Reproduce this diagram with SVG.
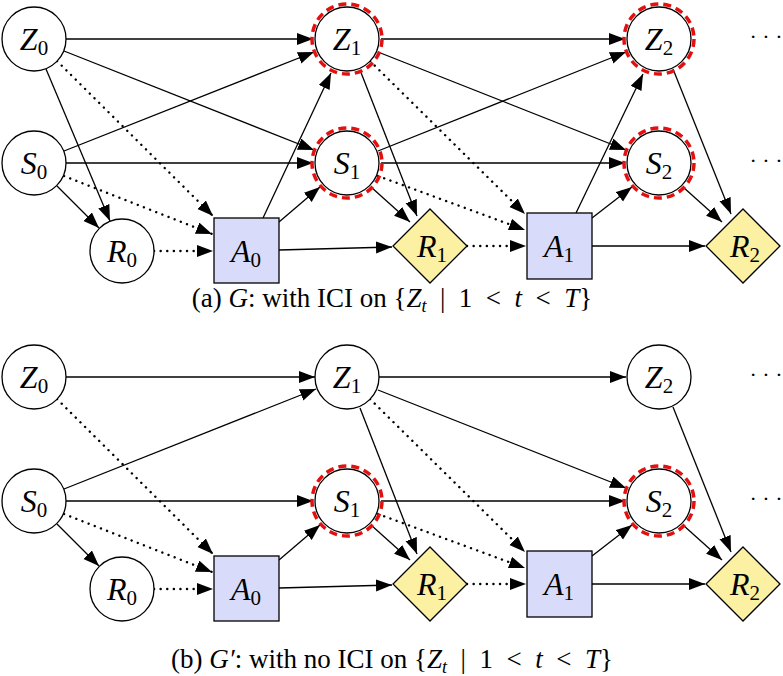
<svg xmlns="http://www.w3.org/2000/svg" width="783" height="676" viewBox="0 0 783 676">
<defs>
<marker id="ah" markerUnits="userSpaceOnUse" markerWidth="18" markerHeight="14" refX="16" refY="6" orient="auto"><path d="M0,0 L16,6 L0,12 Z" fill="#000"/></marker>
</defs>
<style>
.c{fill:#fff;stroke:#000;stroke-width:1.3}
.a{fill:#d9dbfa;stroke:#000;stroke-width:1.3}
.r{fill:#fcf1a2;stroke:#000;stroke-width:1.3}
.red{fill:none;stroke:#e41010;stroke-width:3.5;stroke-dasharray:8 5}
.e line{stroke:#000;stroke-width:1.3;marker-end:url(#ah)}
.e line.d{stroke-dasharray:0.1 6.5;stroke-linecap:round;stroke-width:2.4}
text{font-family:'Liberation Serif','DejaVu Serif',serif;fill:#000}
.l{font-size:32px;font-style:italic;text-anchor:middle}
.s{font-size:21px;font-style:normal}
.cap{font-size:27px;text-anchor:middle}
.dots{font-size:22px;text-anchor:middle}
</style>
<g id="edges-a" class="e">
<line x1="66" y1="39" x2="313" y2="39"/>
<line x1="64" y1="51" x2="314" y2="150"/>
<line x1="46" y1="69" x2="110" y2="221"/>
<line class="d" x1="57" y1="61" x2="213" y2="216"/>
<line x1="64" y1="151" x2="314" y2="52"/>
<line x1="66" y1="163" x2="313" y2="163"/>
<line x1="57" y1="186" x2="99" y2="228"/>
<line class="d" x1="64" y1="176" x2="212" y2="234"/>
<line class="d" x1="154" y1="251" x2="213" y2="251"/>
<line x1="263" y1="218" x2="331" y2="73"/>
<line x1="279" y1="222" x2="320" y2="187"/>
<line x1="279" y1="250" x2="392" y2="247"/>
<line x1="381" y1="39" x2="625" y2="39"/>
<line x1="378" y1="52" x2="626" y2="150"/>
<line x1="360" y1="70" x2="417" y2="216"/>
<line class="d" x1="370" y1="61" x2="525" y2="214"/>
<line x1="378" y1="151" x2="626" y2="52"/>
<line x1="381" y1="163" x2="625" y2="163"/>
<line x1="371" y1="187" x2="410" y2="222"/>
<line class="d" x1="378" y1="176" x2="525" y2="230"/>
<line class="d" x1="467" y1="246" x2="526" y2="246"/>
<line x1="576" y1="213" x2="643" y2="74"/>
<line x1="592" y1="218" x2="632" y2="187"/>
<line x1="592" y1="246" x2="705" y2="246"/>
<line x1="673" y1="69" x2="731" y2="214"/>
<line x1="683" y1="187" x2="722" y2="222"/>
</g>
<g id="edges-b" class="e">
<line x1="66" y1="377" x2="315" y2="377"/>
<line class="d" x1="57" y1="399" x2="213" y2="554"/>
<line x1="64" y1="489" x2="316" y2="389"/>
<line x1="66" y1="501" x2="313" y2="501"/>
<line x1="57" y1="524" x2="99" y2="566"/>
<line class="d" x1="64" y1="514" x2="212" y2="572"/>
<line class="d" x1="154" y1="589" x2="213" y2="589"/>
<line x1="279" y1="560" x2="320" y2="525"/>
<line x1="279" y1="588" x2="392" y2="585"/>
<line x1="379" y1="377" x2="626" y2="377"/>
<line x1="378" y1="390" x2="626" y2="488"/>
<line x1="360" y1="408" x2="417" y2="554"/>
<line class="d" x1="370" y1="399" x2="525" y2="552"/>
<line x1="381" y1="501" x2="625" y2="501"/>
<line x1="371" y1="525" x2="410" y2="560"/>
<line class="d" x1="378" y1="514" x2="525" y2="568"/>
<line class="d" x1="467" y1="584" x2="526" y2="584"/>
<line x1="592" y1="556" x2="632" y2="525"/>
<line x1="592" y1="584" x2="705" y2="584"/>
<line x1="673" y1="407" x2="731" y2="552"/>
<line x1="683" y1="525" x2="722" y2="560"/>
</g>
<g id="Z0a"><circle class="c" cx="34" cy="39" r="32"/><text class="l" x="34" y="50">Z<tspan class="s" dy="5">0</tspan></text></g>
<g id="S0a"><circle class="c" cx="34" cy="163" r="32"/><text class="l" x="34" y="174">S<tspan class="s" dy="5">0</tspan></text></g>
<g id="R0a"><circle class="c" cx="122" cy="251" r="32"/><text class="l" x="122" y="262">R<tspan class="s" dy="5">0</tspan></text></g>
<g id="A0a"><rect class="a" x="214" y="218" width="65" height="65"/><text class="l" x="246" y="262">A<tspan class="s" dy="5">0</tspan></text></g>
<g id="Z1a"><circle class="c" cx="347" cy="39" r="32"/><circle class="red" cx="347" cy="39" r="35"/><text class="l" x="347" y="50">Z<tspan class="s" dy="5">1</tspan></text></g>
<g id="S1a"><circle class="c" cx="347" cy="163" r="32"/><circle class="red" cx="347" cy="163" r="35"/><text class="l" x="347" y="174">S<tspan class="s" dy="5">1</tspan></text></g>
<g id="R1a"><polygon class="r" points="430,209 467,246 430,283 393,246"/><text class="l" x="432" y="257">R<tspan class="s" dy="5">1</tspan></text></g>
<g id="A1a"><rect class="a" x="527" y="213" width="65" height="66"/><text class="l" x="559" y="257">A<tspan class="s" dy="5">1</tspan></text></g>
<g id="Z2a"><circle class="c" cx="659" cy="39" r="32"/><circle class="red" cx="659" cy="39" r="35"/><text class="l" x="659" y="50">Z<tspan class="s" dy="5">2</tspan></text></g>
<g id="S2a"><circle class="c" cx="659" cy="163" r="32"/><circle class="red" cx="659" cy="163" r="35"/><text class="l" x="659" y="174">S<tspan class="s" dy="5">2</tspan></text></g>
<g id="R2a"><polygon class="r" points="743,209 780,246 743,283 706,246"/><text class="l" x="745" y="257">R<tspan class="s" dy="5">2</tspan></text></g>
<text class="dots" x="766" y="44">· · ·</text>
<text class="dots" x="766" y="168">· · ·</text>
<text class="cap" x="392" y="307" xml:space="preserve">(a) <tspan font-style="italic">G</tspan>: with ICI on {<tspan font-style="italic">Z<tspan font-size="18" dy="5">t</tspan></tspan><tspan dy="-5">  |  1  &lt;  </tspan><tspan font-style="italic">t</tspan>  &lt;  <tspan font-style="italic">T</tspan>}</text>

<g id="Z0b"><circle class="c" cx="34" cy="377" r="32"/><text class="l" x="34" y="388">Z<tspan class="s" dy="5">0</tspan></text></g>
<g id="S0b"><circle class="c" cx="34" cy="501" r="32"/><text class="l" x="34" y="512">S<tspan class="s" dy="5">0</tspan></text></g>
<g id="R0b"><circle class="c" cx="122" cy="589" r="32"/><text class="l" x="122" y="600">R<tspan class="s" dy="5">0</tspan></text></g>
<g id="A0b"><rect class="a" x="214" y="556" width="65" height="65"/><text class="l" x="246" y="600">A<tspan class="s" dy="5">0</tspan></text></g>
<g id="Z1b"><circle class="c" cx="347" cy="377" r="32"/><text class="l" x="347" y="388">Z<tspan class="s" dy="5">1</tspan></text></g>
<g id="S1b"><circle class="c" cx="347" cy="501" r="32"/><circle class="red" cx="347" cy="501" r="35"/><text class="l" x="347" y="512">S<tspan class="s" dy="5">1</tspan></text></g>
<g id="R1b"><polygon class="r" points="430,547 467,584 430,621 393,584"/><text class="l" x="432" y="595">R<tspan class="s" dy="5">1</tspan></text></g>
<g id="A1b"><rect class="a" x="527" y="551" width="65" height="66"/><text class="l" x="559" y="595">A<tspan class="s" dy="5">1</tspan></text></g>
<g id="Z2b"><circle class="c" cx="659" cy="377" r="32"/><text class="l" x="659" y="388">Z<tspan class="s" dy="5">2</tspan></text></g>
<g id="S2b"><circle class="c" cx="659" cy="501" r="32"/><circle class="red" cx="659" cy="501" r="35"/><text class="l" x="659" y="512">S<tspan class="s" dy="5">2</tspan></text></g>
<g id="R2b"><polygon class="r" points="743,547 780,584 743,621 706,584"/><text class="l" x="745" y="595">R<tspan class="s" dy="5">2</tspan></text></g>
<text class="dots" x="766" y="382">· · ·</text>
<text class="dots" x="766" y="506">· · ·</text>
<text class="cap" x="392" y="668" xml:space="preserve">(b) <tspan font-style="italic">G′</tspan>: with no ICI on {<tspan font-style="italic">Z<tspan font-size="18" dy="5">t</tspan></tspan><tspan dy="-5">  |  1  &lt;  </tspan><tspan font-style="italic">t</tspan>  &lt;  <tspan font-style="italic">T</tspan>}</text>
</svg>
